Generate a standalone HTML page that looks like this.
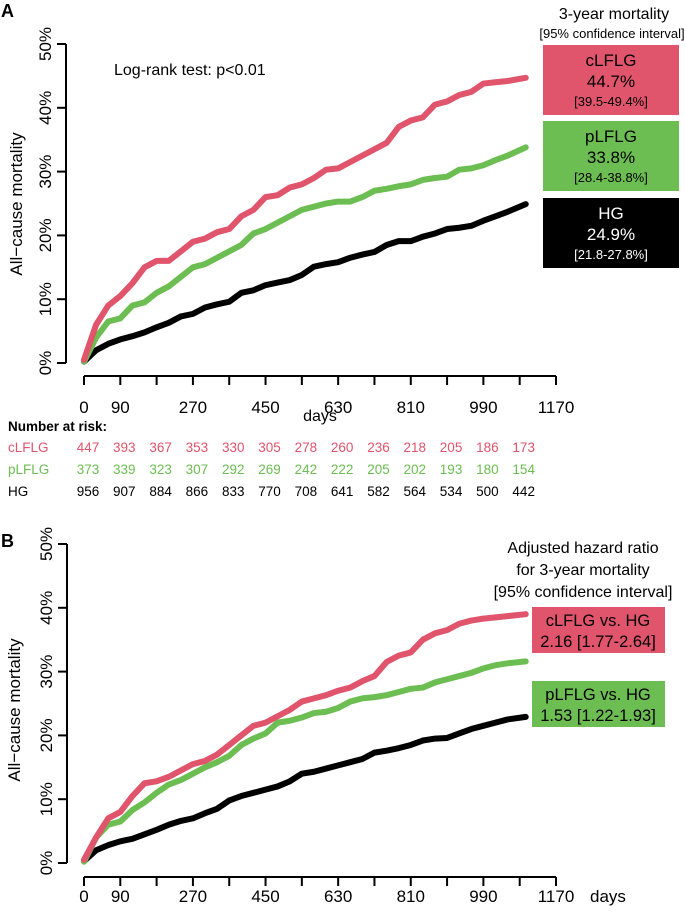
<!DOCTYPE html>
<html><head><meta charset="utf-8"><style>
body{margin:0;background:#fff;width:685px;height:907px;overflow:hidden}
svg{font-family:"Liberation Sans",Arial,sans-serif}
</style></head><body>
<svg id="c" width="685" height="907"></svg>
<script>
const days=[0,30,60,90,120,150,180,210,240,270,300,330,360,390,420,450,480,510,540,570,600,630,660,690,720,750,780,810,840,870,900,930,960,990,1020,1050,1095];
const aCLFLG=[0.5,6,9,10.5,12.5,15,16,16,17.5,19,19.5,20.5,21,23,24,26,26.3,27.5,28,29,30.3,30.5,31.5,32.5,33.5,34.5,37,38,38.5,40.5,41,42,42.5,43.8,44,44.2,44.7];
const aPLFLG=[0.2,4,6.5,7,9,9.5,11,12,13.5,15,15.5,16.5,17.5,18.5,20.3,21,22,23,24,24.5,25,25.3,25.3,26,27,27.3,27.7,28,28.7,29,29.2,30.3,30.5,31,31.8,32.5,33.8];
const aHG=[0.2,2,3,3.7,4.2,4.8,5.6,6.3,7.3,7.7,8.7,9.2,9.6,11,11.4,12.2,12.6,13,13.8,15.1,15.5,15.8,16.5,17,17.4,18.5,19.1,19.1,19.8,20.3,21,21.2,21.5,22.3,23,23.7,24.9];
const bCLFLG=[0.5,4,7,8,10.5,12.5,12.8,13.5,14.5,15.5,16,17,18.5,20,21.5,22,23,24,25.3,25.8,26.3,27,27.5,28.5,29.3,31.5,32.5,33,35,36,36.5,37.5,38,38.3,38.5,38.7,39];
const bPLFLG=[0.2,4,6,6.5,8.3,9.5,11,12.3,13,14,15,15.8,16.8,18.5,19.5,20.3,22,22.3,22.8,23.5,23.7,24.3,25.3,25.8,26,26.3,26.8,27.3,27.5,28.3,28.8,29.3,29.8,30.5,31,31.3,31.6];
const bHG=[0.3,2,2.8,3.4,3.8,4.5,5.2,6,6.6,7,7.8,8.5,9.8,10.5,11,11.5,12,12.8,14,14.3,14.8,15.3,15.8,16.3,17.3,17.6,18,18.5,19.2,19.5,19.6,20.3,21,21.5,22,22.5,22.9];
const xTicks=[0,90,180,270,360,450,540,630,720,810,900,990,1080,1170];
const xLabels=[0,90,270,450,630,810,990,1170];
const yTicks=[0,10,20,30,40,50];
const riskDays=[0,90,180,270,360,450,540,630,720,810,900,990,1080];
const riskC=[447,393,367,353,330,305,278,260,236,218,205,186,173];
const riskP=[373,339,323,307,292,269,242,222,205,202,193,180,154];
const riskH=[956,907,884,866,833,770,708,641,582,564,534,500,442];
const PINK="#e0546c",GREEN="#6cbe52",BLACK="#000";
const svg=document.getElementById('c');
const NS="http://www.w3.org/2000/svg";
function el(tag,attrs,txt){const e=document.createElementNS(NS,tag);for(const k in attrs)e.setAttribute(k,attrs[k]);if(txt!==undefined)e.textContent=txt;svg.appendChild(e);return e;}
function panel(P,series,tag){
 const xs=d=>P.x0+d*(P.x1-P.x0)/1170, ys=v=>P.y0-v*(P.y0-P.y50)/50;
 let a=el('line',{x1:P.ax,y1:ys(0),x2:P.ax,y2:ys(50),stroke:'#000','stroke-width':2});
 
 yTicks.forEach(v=>{
  let t=el('line',{x1:P.ax-9,y1:ys(v),x2:P.ax,y2:ys(v),stroke:'#000','stroke-width':2});
  
  let l=el('text',{x:0,y:0,transform:`translate(${P.ax-15},${ys(v)}) rotate(-90)`,'text-anchor':'middle','font-size':17,fill:'#000'},v+'%');
  
 });
 let xa=el('line',{x1:xs(0),y1:P.xa,x2:xs(1170),y2:P.xa,stroke:'#000','stroke-width':2});
 
 xTicks.forEach(d=>{
  let t=el('line',{x1:xs(d),y1:P.xa,x2:xs(d),y2:P.xa+9,stroke:'#000','stroke-width':2});
  
 });
 xLabels.forEach(d=>{
  let l=el('text',{x:xs(d),y:P.xa+P.lo,'text-anchor':'middle','font-size':17,fill:'#000'},d);
  
 });
 series.forEach(s=>{
  let d='M'+xs(days[0])+','+ys(s.v[0]);
  for(let i=1;i<days.length;i++){d+=' L'+xs(days[i])+','+ys(s.v[i]);}
  let p=el('path',{d:d,fill:'none',stroke:s.c,'stroke-width':6,'stroke-linejoin':'round','stroke-linecap':'round'});
  
 });
 return xs;
}
// Panel A
let lA=el('text',{x:1,y:17,'font-size':18,'font-weight':'bold'},'A');

const xsA=panel({ax:66,x0:84,x1:556,y0:363,y50:44,xa:376,lo:37},[{n:'hg',v:aHG,c:BLACK},{n:'plflg',v:aPLFLG,c:GREEN},{n:'clflg',v:aCLFLG,c:PINK}],'panel-a');
let t;
t=el('text',{x:0,y:0,transform:'translate(22,204) rotate(-90)','text-anchor':'middle','font-size':17},'All\u2212cause mortality');

t=el('text',{x:320,y:421,'text-anchor':'middle','font-size':16},'days');

t=el('text',{x:114,y:75,'font-size':16},'Log-rank test: p<0.01');

t=el('text',{x:614,y:19,'text-anchor':'middle','font-size':16},'3-year mortality');

t=el('text',{x:612,y:38,'text-anchor':'middle','font-size':13},'[95% confidence interval]');

[[45,PINK,'#000','cLFLG','44.7%','[39.5-49.4%]','clflg'],[121,GREEN,'#000','pLFLG','33.8%','[28.4-38.8%]','plflg'],[198,BLACK,'#fff','HG','24.9%','[21.8-27.8%]','hg']].forEach(b=>{
 let r=el('rect',{x:543,y:b[0],width:136,height:70,fill:b[1]});
 
 let a=el('text',{x:611,y:b[0]+21,'text-anchor':'middle','font-size':17,fill:b[2]},b[3]);
 
 let c=el('text',{x:611,y:b[0]+42,'text-anchor':'middle','font-size':17,fill:b[2]},b[4]);
 
 let d=el('text',{x:611,y:b[0]+61,'text-anchor':'middle','font-size':13,fill:b[2]},b[5]);
 
});
// Risk table
t=el('text',{x:8,y:431,'font-size':13.5,'font-weight':'bold'},'Number at risk:');

[[452,'cLFLG',riskC,PINK],[474,'pLFLG',riskP,GREEN],[496,'HG',riskH,BLACK]].forEach(r=>{
 let l=el('text',{x:8,y:r[0],'font-size':13.5,fill:r[3]},r[1]);
 
 r[2].forEach((n,i)=>{
  let c=el('text',{x:xsA(riskDays[i])+4,y:r[0],'text-anchor':'middle','font-size':13.5,fill:r[3]},n);
  
 });
});
// Panel B
let lB=el('text',{x:1,y:547,'font-size':18,'font-weight':'bold'},'B');

panel({ax:67,x0:84,x1:556,y0:863,y50:544,xa:877,lo:25},[{n:'hg',v:bHG,c:BLACK},{n:'plflg',v:bPLFLG,c:GREEN},{n:'clflg',v:bCLFLG,c:PINK}],'panel-b');
t=el('text',{x:0,y:0,transform:'translate(20,710) rotate(-90)','text-anchor':'middle','font-size':17},'All\u2212cause mortality');

t=el('text',{x:590,y:902,'text-anchor':'start','font-size':17},'days');

[['Adjusted hazard ratio',553],['for 3-year mortality',575],['[95% confidence interval]',597]].forEach(s=>{
 let a=el('text',{x:583,y:s[1],'text-anchor':'middle','font-size':16},s[0]);
 
});
[[607,PINK,'cLFLG vs. HG','2.16 [1.77-2.64]','clflg'],[681,GREEN,'pLFLG vs. HG','1.53 [1.22-1.93]','plflg']].forEach(b=>{
 let r=el('rect',{x:532,y:b[0],width:133,height:46,fill:b[1]});
 
 let a=el('text',{x:598,y:b[0]+19,'text-anchor':'middle','font-size':16.5},b[2]);
 
 let c=el('text',{x:598,y:b[0]+40,'text-anchor':'middle','font-size':16.5},b[3]);
 
});
</script>
</body></html>
